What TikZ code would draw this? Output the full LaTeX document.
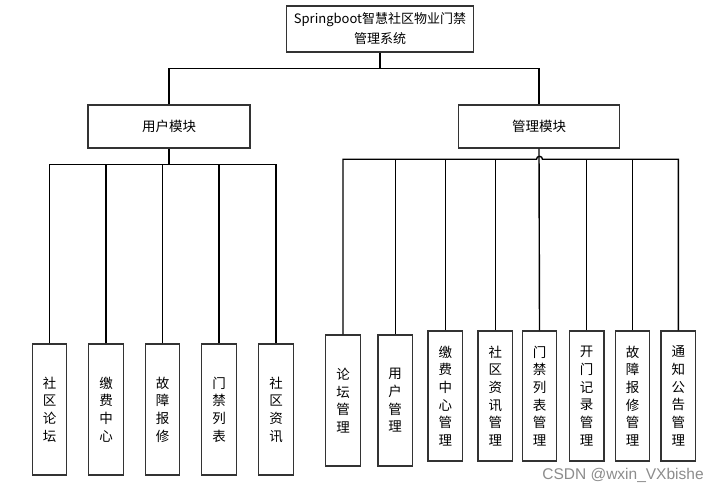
\documentclass[tikz,border=0pt]{standalone}
\usepackage{fontspec}
\setmainfont{Noto Sans CJK SC}
\newfontfamily\markfont{Liberation Sans}
\begin{document}
\begin{tikzpicture}[x=1pt, y=-1pt,
    box/.style={draw=black!80, line width=1.3pt, fill=white, inner sep=0pt},
    leafbox/.style={box, minimum width=34.5pt, minimum height=131pt, align=center,
        font=\fontsize{13.5}{17.7}\selectfont},
    link/.style={black, line width=1.4pt}]

    % Page frame
    \useasboundingbox (0,0) rectangle (722,494);

    % Root of the tree
    \node[box, minimum width=187pt, minimum height=46pt, align=center,
        font=\fontsize{13}{20}\selectfont] (root) at (380,29)
        {Springboot智慧社区物业门禁\\管理系统};

    % The two modules
    \node[box, minimum width=162pt, minimum height=43pt,
        font=\fontsize{13.5}{16}\selectfont] (user) at (169,126.5) {用户模块};
    \node[box, minimum width=161pt, minimum height=43pt,
        font=\fontsize{13.5}{16}\selectfont] (admin) at (539,126.5) {管理模块};

    % Leaves of the user module
    \node[leafbox] (u1) at (49.5,409.5) {社\\区\\论\\坛};
    \node[leafbox] (u2) at (106,409.5) {缴\\费\\中\\心};
    \node[leafbox] (u3) at (162.5,409.5) {故\\障\\报\\修};
    \node[leafbox] (u4) at (219,409.5) {门\\禁\\列\\表};
    \node[leafbox] (u5) at (276,409.5) {社\\区\\资\\讯};

    % Leaves of the admin module
    \node[leafbox] (a1) at (343,400.5) {论\\坛\\管\\理};
    \node[leafbox] (a2) at (395.2,400.5) {用\\户\\管\\理};
    \node[leafbox, minimum height=130pt] (a3) at (445.3,396) {缴\\费\\中\\心\\管\\理};
    \node[leafbox, minimum height=130pt] (a4) at (495.3,396) {社\\区\\资\\讯\\管\\理};
    \node[leafbox, minimum height=130pt] (a5) at (539.5,396) {门\\禁\\列\\表\\管\\理};
    \node[leafbox, minimum height=130pt] (a6) at (586.7,396) {开\\门\\记\\录\\管\\理};
    \node[leafbox, minimum height=130pt] (a7) at (632.5,396) {故\\障\\报\\修\\管\\理};
    \node[leafbox, minimum height=130pt] (a8) at (678.3,396) {通\\知\\公\\告\\管\\理};

    % Bus lines
    \coordinate (rootbus) at (380,68.3);
    \coordinate (userbus) at (169,164.3);
    \coordinate (adminbus) at (539.5,159.3);

    % Root to modules
    \draw[link] (root.south) -- (rootbus);
    \draw[link] (user.north) |- (rootbus) -| (admin.north);

    % User module to its leaves
    \draw[link] (user.south) -- (userbus);
    \draw[link] (u1.north) |- (userbus) -| (u5.north);
    \draw[link] (u2.north) -- (u2.north |- userbus);
    \draw[link] (u3.north) -- (u3.north |- userbus);
    \draw[link] (u4.north) -- (u4.north |- userbus);

    % Admin module to its leaves (the bus hops over the middle line)
    \draw[link] (a1.north) |- ([xshift=-3pt]adminbus) arc (180:360:3) -| (a8.north);
    \draw[link] (admin.south) -- (a5.north);
    \draw[link] (a2.north) -- (a2.north |- adminbus);
    \draw[link] (a3.north) -- (a3.north |- adminbus);
    \draw[link] (a4.north) -- (a4.north |- adminbus);
    \draw[link] (a6.north) -- (a6.north |- adminbus);
    \draw[link] (a7.north) -- (a7.north |- adminbus);

    % Watermark
    \node[text=black!45, font=\markfont\fontsize{15.5}{17}\selectfont] (mark) at (623,475) {CSDN @wxin\_VXbishe};
\end{tikzpicture}
\end{document}
